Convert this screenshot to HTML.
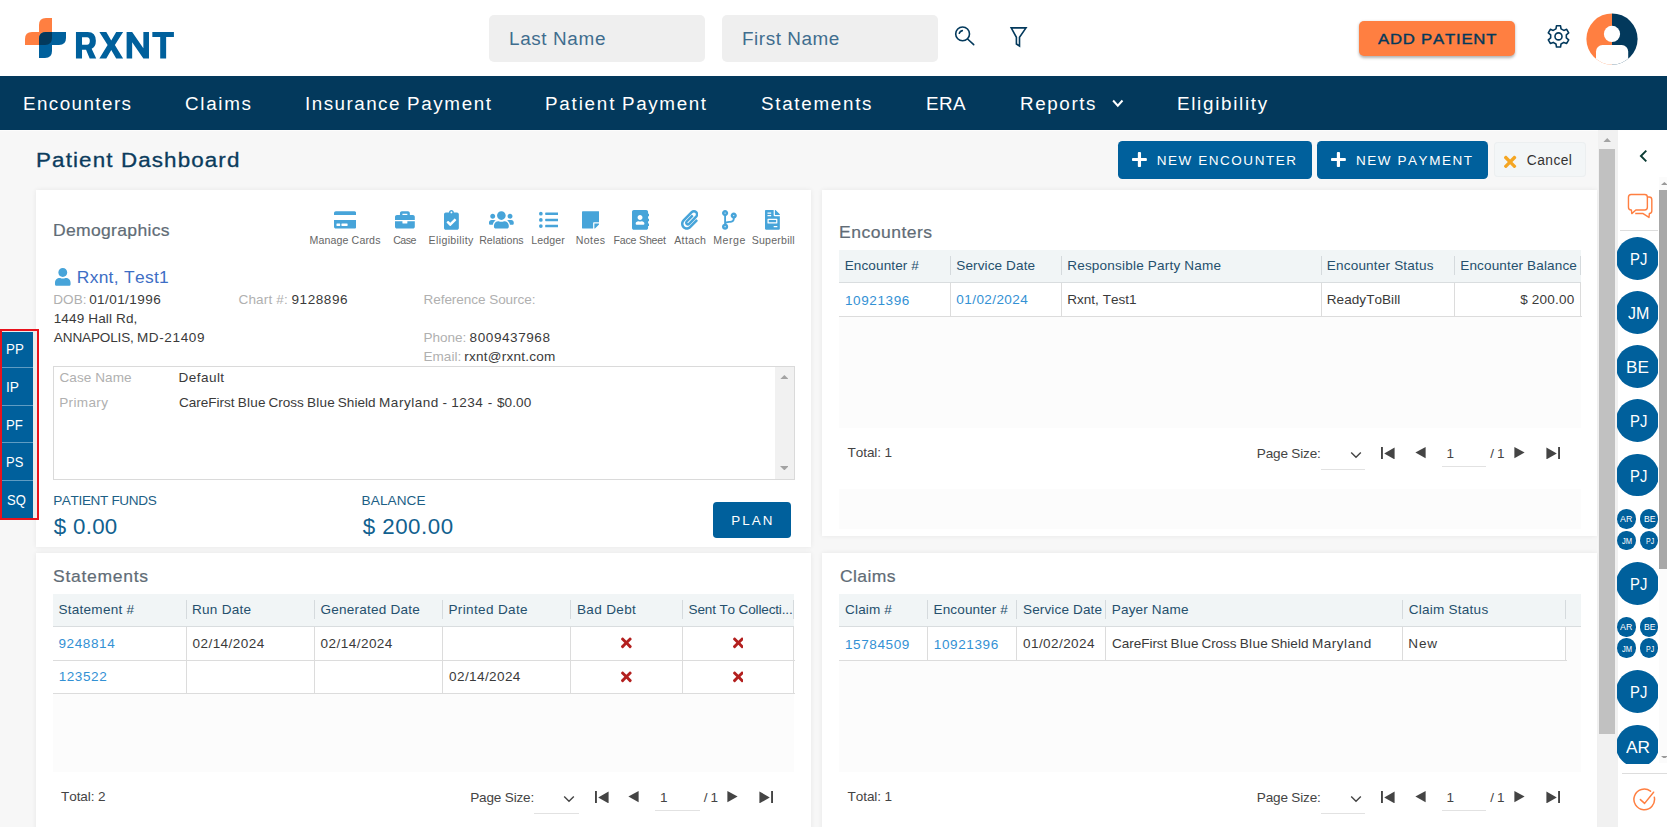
<!DOCTYPE html>
<html lang="en"><head><meta charset="utf-8"><title>Patient Dashboard</title>
<style>
html,body{margin:0;padding:0;}
body{width:1667px;height:827px;overflow:hidden;position:relative;background:#fff;font-family:"Liberation Sans",sans-serif;}
.r{position:absolute;display:block;box-sizing:border-box;}
.t{font-kerning:none;position:absolute;display:block;white-space:nowrap;font-family:"Liberation Sans",sans-serif;}
</style></head><body>
<div class="r" style="left:0px;top:0px;width:1667px;height:76px;background:#ffffff;"></div>
<div class="r" style="left:0px;top:76px;width:1667px;height:54px;background:#03395c;"></div>
<div class="r" style="left:0px;top:130px;width:1599px;height:697px;background:#f7f7f7;"></div>
<div class="r" style="left:0px;top:130px;width:1618px;height:1px;background:rgba(255,255,255,.6);"></div>
<svg class="r" style="left:25px;top:18px;" width="41" height="40" viewBox="0 0 41 40"><path fill="#ff7f41" d="M21 0H27V27H0V21Q0 14 7 14H14V7Q14 0 21 0Z"/>
<path fill="#00609c" d="M21 14H41V20Q41 27 34 27H27V33Q27 40 20 40H14V21Q14 14 21 14Z"/>
<path fill="#03395c" d="M21 14H27V20Q27 27 20 27H14V21Q14 14 21 14Z"/></svg>
<svg class="r" style="left:70px;top:22px;" width="110" height="44" viewBox="0 0 1667 667"><g fill="#00609c"><path fill-rule="evenodd" d="M90 150 H268 Q392 150 392 286 Q392 378 328 406 L397 552 H298 L243 421 H182 V552 H90 Z M182 232 H258 Q300 232 300 289 Q300 345 258 345 H182 Z"/>
<path d="M445 150 H550 L625 282 L700 150 H805 L680 350 L805 552 H700 L625 423 L550 552 H445 L570 350 Z"/>
<path d="M858 150 H942 L1112 398 V150 H1197 V552 H1112 L942 306 V552 H858 Z"/>
<path d="M1248 150 H1575 V229 H1457 V552 H1367 V229 H1248 Z"/></g></svg>
<span class="t" style="left:76px;top:30px;font-size:30px;line-height:30px;color:transparent;font-weight:700;">RXNT</span>
<div class="r" style="left:489px;top:15px;width:216px;height:46.5px;background:#efefef;border-radius:5px;"></div>
<div class="r" style="left:722px;top:15px;width:216px;height:46.5px;background:#efefef;border-radius:5px;"></div>
<span class="t" style="left:508.55px;top:30.00px;font-size:18px;line-height:18px;color:#3f6d8e;letter-spacing:0.595px;transform:scaleX(1.05);transform-origin:0 0;">Last Name</span>
<span class="t" style="left:741.55px;top:30.00px;font-size:18px;line-height:18px;color:#3f6d8e;letter-spacing:0.517px;transform:scaleX(1.05);transform-origin:0 0;">First Name</span>
<svg class="r" style="left:950px;top:22px;" width="30" height="28" viewBox="950 22 30 28"><g fill="none" stroke="#03395c" stroke-width="1.6" stroke-linecap="round"><circle cx="962.6" cy="33.9" r="6.9"/><path d="M967.6 39 L973.7 44.6"/><path d="M959.3 33.2 A4 4 0 0 1 962.3 30.6"/></g></svg>
<svg class="r" style="left:1005px;top:22px;" width="30" height="28" viewBox="1005 22 30 28"><path fill="none" stroke="#03395c" stroke-width="1.6" stroke-linejoin="miter" d="M1011.2 27.9 H1026 L1019.5 37.3 V46 L1016.4 44 V37.3 Z"/></svg>
<div class="r" style="left:1359.1px;top:20.5px;width:155.7px;height:35.8px;background:#ff7f41;border-radius:5px;box-shadow:0 1.5px 3px rgba(0,0,0,.3);"></div>
<span class="t" style="left:1377.87px;top:31.00px;font-size:15.2px;line-height:15.2px;color:#03395c;letter-spacing:0.724px;transform:scaleX(1.1);transform-origin:0 0;-webkit-text-stroke:0.4px #03395c;">ADD PATIENT</span>
<svg class="r" style="left:1543px;top:21px;" width="31" height="31" viewBox="1543 21 31 31"><g fill="none" stroke="#03395c" stroke-width="1.6" stroke-linejoin="round"><path d="M1555.95 28.82 L1556.48 25.79 L1560.52 25.79 L1561.05 28.82 L1563.79 30.40 L1566.68 29.34 L1568.70 32.85 L1566.34 34.82 L1566.34 37.98 L1568.70 39.95 L1566.68 43.46 L1563.79 42.40 L1561.05 43.98 L1560.52 47.01 L1556.48 47.01 L1555.95 43.98 L1553.21 42.40 L1550.32 43.46 L1548.30 39.95 L1550.66 37.98 L1550.66 34.82 L1548.30 32.85 L1550.32 29.34 L1553.21 30.40Z"/><circle cx="1558.5" cy="36.4" r="3.5"/></g></svg>
<svg class="r" style="left:1586px;top:12.7px;" width="52" height="52" viewBox="0 0 52 52"><defs><clipPath id="avc"><circle cx="26" cy="26" r="25.6"/></clipPath></defs>
<g clip-path="url(#avc)"><rect x="0" y="0" width="26" height="52" fill="#ff7f41"/><rect x="26" y="0" width="26" height="52" fill="#03395c"/>
<circle cx="26" cy="20.9" r="8.1" fill="#fff"/><rect x="10" y="32.1" width="32.2" height="30" rx="6.5" fill="#fff"/></g></svg>
<span class="t" style="left:23.26px;top:96.00px;font-size:17.6px;line-height:17.6px;color:#ffffff;letter-spacing:1.325px;transform:scaleX(1.07);transform-origin:0 0;">Encounters</span>
<span class="t" style="left:185.44px;top:96.00px;font-size:17.6px;line-height:17.6px;color:#ffffff;letter-spacing:1.569px;transform:scaleX(1.07);transform-origin:0 0;">Claims</span>
<span class="t" style="left:304.66px;top:96.00px;font-size:17.6px;line-height:17.6px;color:#ffffff;letter-spacing:1.375px;transform:scaleX(1.07);transform-origin:0 0;">Insurance</span>
<span class="t" style="left:406.76px;top:96.00px;font-size:17.6px;line-height:17.6px;color:#ffffff;letter-spacing:1.521px;transform:scaleX(1.07);transform-origin:0 0;">Payment</span>
<span class="t" style="left:544.96px;top:96.00px;font-size:17.6px;line-height:17.6px;color:#ffffff;letter-spacing:1.675px;transform:scaleX(1.07);transform-origin:0 0;">Patient</span>
<span class="t" style="left:622.06px;top:96.00px;font-size:17.6px;line-height:17.6px;color:#ffffff;letter-spacing:1.521px;transform:scaleX(1.07);transform-origin:0 0;">Payment</span>
<span class="t" style="left:761.04px;top:96.00px;font-size:17.6px;line-height:17.6px;color:#ffffff;letter-spacing:1.587px;transform:scaleX(1.07);transform-origin:0 0;">Statements</span>
<span class="t" style="left:925.86px;top:96.00px;font-size:17.6px;line-height:17.6px;color:#ffffff;letter-spacing:0.449px;transform:scaleX(1.07);transform-origin:0 0;">ERA</span>
<span class="t" style="left:1020.46px;top:96.00px;font-size:17.6px;line-height:17.6px;color:#ffffff;letter-spacing:1.493px;transform:scaleX(1.07);transform-origin:0 0;">Reports</span>
<span class="t" style="left:1177.16px;top:96.00px;font-size:17.6px;line-height:17.6px;color:#ffffff;letter-spacing:1.582px;transform:scaleX(1.07);transform-origin:0 0;">Eligibility</span>
<svg class="r" style="left:1110px;top:98px;" width="16" height="12" viewBox="1110 98 16 12"><path fill="none" stroke="#fff" stroke-width="2" d="M1113.1 100.5 L1117.8 105.7 L1122.5 100.5"/></svg>
<span class="t" style="left:36.06px;top:150.00px;font-size:20px;line-height:20px;color:#0b3c5d;letter-spacing:0.995px;transform:scaleX(1.12);transform-origin:0 0;-webkit-text-stroke:0.3px #0b3c5d;">Patient Dashboard</span>
<div class="r" style="left:1118px;top:141px;width:193.6px;height:37.9px;background:#00609c;border-radius:4.5px;"></div>
<div class="r" style="left:1317.2px;top:141px;width:170.4px;height:37.9px;background:#00609c;border-radius:4.5px;"></div>
<div class="r" style="left:1493.5px;top:142.4px;width:92.7px;height:35px;background:#f3f6f7;border-radius:4px;box-shadow:0 0 0 1px #eceff0 inset;"></div>
<svg class="r" style="left:1132.1px;top:151.1px;" width="14.88" height="17" viewBox="0 0 448 512"><path fill="#fff" d="M416 208H272V64c0-17.670-14.330-32-32-32h-32c-17.670 0-32 14.330-32 32v144H32c-17.670 0-32 14.330-32 32v32c0 17.670 14.330 32 32 32h144v144c0 17.670 14.330 32 32 32h32c17.670 0 32-14.330 32-32V304h144c17.670 0 32-14.330 32-32v-32c0-17.670-14.330-32-32-32z"/></svg>
<svg class="r" style="left:1331.2px;top:151.1px;" width="14.88" height="17" viewBox="0 0 448 512"><path fill="#fff" d="M416 208H272V64c0-17.670-14.330-32-32-32h-32c-17.670 0-32 14.330-32 32v144H32c-17.670 0-32 14.330-32 32v32c0 17.670 14.330 32 32 32h144v144c0 17.670 14.330 32 32 32h32c17.670 0 32-14.330 32-32V304h144c17.670 0 32-14.330 32-32v-32c0-17.670-14.330-32-32-32z"/></svg>
<span class="t" style="left:1156.79px;top:154.00px;font-size:13.5px;line-height:13.5px;color:#fff;letter-spacing:1.540px;">NEW ENCOUNTER</span>
<span class="t" style="left:1355.89px;top:154.00px;font-size:13.5px;line-height:13.5px;color:#fff;letter-spacing:1.571px;">NEW PAYMENT</span>
<svg class="r" style="left:1504.48px;top:152.8px;" width="12.24" height="17.8" viewBox="0 0 352 512"><path fill="#f5a623" d="M242.720 256l100.070-100.070c12.280-12.280 12.280-32.190 0-44.480l-22.240-22.240c-12.280-12.280-32.190-12.280-44.480 0L176 189.280 75.930 89.210c-12.280-12.280-32.190-12.280-44.480 0L9.210 111.450c-12.280 12.280-12.280 32.190 0 44.480L109.280 256 9.210 356.070c-12.280 12.280-12.280 32.190 0 44.480l22.240 22.240c12.280 12.280 32.200 12.280 44.480 0L176 322.720l100.070 100.070c12.280 12.280 32.200 12.280 44.480 0l22.240-22.240c12.280-12.280 12.280-32.190 0-44.480L242.720 256z"/></svg>
<span class="t" style="left:1526.80px;top:154.00px;font-size:13.8px;line-height:13.8px;color:#333;letter-spacing:0.433px;">Cancel</span>
<div class="r" style="left:36px;top:190px;width:775px;height:357px;background:#fff;box-shadow:0 0 5px rgba(0,0,0,.07);"></div>
<span class="t" style="left:53.06px;top:222.00px;font-size:16.1px;line-height:16.1px;color:#616c76;letter-spacing:0.286px;transform:scaleX(1.09);transform-origin:0 0;-webkit-text-stroke:0.2px #616c76;">Demographics</span>
<svg class="r" style="left:333.76px;top:209.9px;" width="22.28" height="19.8" viewBox="0 0 576 512"><path fill="#47a4d9" d="M0 432c0 26.5 21.5 48 48 48h480c26.5 0 48-21.5 48-48V256H0v176zm192-68c0-6.600 5.400-12 12-12h136c6.600 0 12 5.400 12 12v40c0 6.600-5.400 12-12 12H204c-6.600 0-12-5.400-12-12v-40zm-128 0c0-6.600 5.400-12 12-12h72c6.600 0 12 5.400 12 12v40c0 6.600-5.400 12-12 12H76c-6.600 0-12-5.400-12-12v-40zM576 80v48H0V80c0-26.5 21.5-48 48-48h480c26.5 0 48 21.5 48 48z"/></svg>
<span class="t" style="left:309.43px;top:235.00px;font-size:10.6px;line-height:10.6px;color:#666;letter-spacing:0.139px;">Manage Cards</span>
<svg class="r" style="left:395.1px;top:209.9px;" width="19.8" height="19.8" viewBox="0 0 512 512"><path fill="#47a4d9" d="M320 336c0 8.840-7.160 16-16 16h-96c-8.840 0-16-7.160-16-16v-48H0v144c0 25.600 22.400 48 48 48h416c25.600 0 48-22.400 48-48V288H320v48zm144-208h-80V80c0-25.600-22.400-48-48-48H176c-25.600 0-48 22.400-48 48v48H48c-25.600 0-48 22.400-48 48v80h512v-80c0-25.600-22.400-48-48-48zm-144 0H192V96h128v32z"/></svg>
<span class="t" style="left:393.16px;top:235.00px;font-size:10.6px;line-height:10.6px;color:#666;letter-spacing:-0.479px;">Case</span>
<svg class="r" style="left:443.97px;top:209.9px;" width="14.85" height="19.8" viewBox="0 0 384 512"><path fill="#47a4d9" d="M336 64h-80c0-35.300-28.700-64-64-64s-64 28.700-64 64H48C21.500 64 0 85.500 0 112v352c0 26.500 21.500 48 48 48h288c26.500 0 48-21.500 48-48V112c0-26.500-21.500-48-48-48zM192 40c13.300 0 24 10.700 24 24s-10.700 24-24 24-24-10.700-24-24 10.700-24 24-24zm121.200 231.800l-143 141.800c-4.700 4.700-12.300 4.600-17-.1l-82.600-83.300c-4.700-4.700-4.600-12.300.1-17L99.100 285c4.700-4.700 12.300-4.600 17 .1l46 46.400 106-105.200c4.700-4.700 12.300-4.600 17 .1l28.200 28.400c4.700 4.800 4.600 12.300-.1 17z"/></svg>
<span class="t" style="left:428.53px;top:235.00px;font-size:10.6px;line-height:10.6px;color:#666;letter-spacing:0.365px;">Eligibility</span>
<svg class="r" style="left:488.93px;top:209.9px;" width="24.75" height="19.8" viewBox="0 0 640 512"><path fill="#47a4d9" d="M96 224c35.300 0 64-28.700 64-64s-28.700-64-64-64-64 28.700-64 64 28.700 64 64 64zm448 0c35.300 0 64-28.700 64-64s-28.700-64-64-64-64 28.700-64 64 28.700 64 64 64zm32 32h-64c-17.600 0-33.500 7.100-45.100 18.600 40.300 22.100 68.900 62 75.100 109.400h66c17.700 0 32-14.300 32-32v-32c0-35.300-28.700-64-64-64zm-256 0c61.900 0 112-50.100 112-112S381.900 32 320 32 208 82.100 208 144s50.100 112 112 112zm76.800 32h-8.300c-20.800 10-43.900 16-68.500 16s-47.600-6-68.500-16h-8.300C179.600 288 128 339.600 128 403.200V432c0 26.500 21.500 48 48 48h288c26.500 0 48-21.500 48-48v-28.800c0-63.600-51.600-115.200-115.200-115.200zm-223.700-13.400C161.500 263.100 145.600 256 128 256H64c-35.300 0-64 28.700-64 64v32c0 17.700 14.300 32 32 32h65.900c6.300-47.400 34.900-87.300 75.200-109.400z"/></svg>
<span class="t" style="left:479.13px;top:235.00px;font-size:10.6px;line-height:10.6px;color:#666;letter-spacing:0.045px;">Relations</span>
<svg class="r" style="left:538.6px;top:209.9px;" width="19.8" height="19.8" viewBox="0 0 512 512"><path fill="#47a4d9" d="M48 48a48 48 0 1 0 48 48 48 48 0 0 0-48-48zm0 160a48 48 0 1 0 48 48 48 48 0 0 0-48-48zm0 160a48 48 0 1 0 48 48 48 48 0 0 0-48-48zm448 16H176a16 16 0 0 0-16 16v32a16 16 0 0 0 16 16h320a16 16 0 0 0 16-16v-32a16 16 0 0 0-16-16zm0-320H176a16 16 0 0 0-16 16v32a16 16 0 0 0 16 16h320a16 16 0 0 0 16-16V80a16 16 0 0 0-16-16zm0 160H176a16 16 0 0 0-16 16v32a16 16 0 0 0 16 16h320a16 16 0 0 0 16-16v-32a16 16 0 0 0-16-16z"/></svg>
<span class="t" style="left:531.13px;top:235.00px;font-size:10.6px;line-height:10.6px;color:#666;letter-spacing:0.128px;">Ledger</span>
<svg class="r" style="left:581.94px;top:209.9px;" width="17.32" height="19.8" viewBox="0 0 448 512"><path fill="#47a4d9" d="M312 320h136V56c0-13.300-10.700-24-24-24H24C10.700 32 0 42.700 0 56v400c0 13.300 10.700 24 24 24h264V344c0-13.200 10.800-24 24-24zm129 55l-98 98c-4.500 4.500-10.600 7-17 7h-6V352h128v6.100c0 6.300-2.500 12.400-7 16.900z"/></svg>
<span class="t" style="left:575.73px;top:235.00px;font-size:10.6px;line-height:10.6px;color:#666;letter-spacing:0.416px;">Notes</span>
<svg class="r" style="left:631.54px;top:209.9px;" width="17.32" height="19.8" viewBox="0 0 448 512"><path fill="#47a4d9" d="M436 160c6.600 0 12-5.400 12-12v-40c0-6.600-5.400-12-12-12h-20V48c0-26.500-21.500-48-48-48H48C21.500 0 0 21.500 0 48v416c0 26.500 21.500 48 48 48h320c26.500 0 48-21.500 48-48v-48h20c6.600 0 12-5.400 12-12v-40c0-6.600-5.400-12-12-12h-20v-64h20c6.600 0 12-5.400 12-12v-40c0-6.600-5.400-12-12-12h-20v-64h20zm-228-32c35.300 0 64 28.700 64 64s-28.700 64-64 64-64-28.700-64-64 28.700-64 64-64zm112 236.800c0 10.600-10 19.200-22.400 19.200H118.400C106 384 96 375.400 96 364.800v-19.200c0-31.800 30.100-57.600 67.200-57.600h5c12.300 5.100 25.700 8 39.800 8s27.600-2.900 39.800-8h5c37.100 0 67.200 25.800 67.200 57.600v19.200z"/></svg>
<span class="t" style="left:613.53px;top:235.00px;font-size:10.6px;line-height:10.6px;color:#666;letter-spacing:-0.196px;">Face Sheet</span>
<svg class="r" style="left:680.64px;top:209.9px;" width="17.32" height="19.8" viewBox="0 0 448 512"><path fill="#47a4d9" d="M43.246 466.142c-58.430-60.289-57.341-157.511 1.386-217.581L254.392 34c44.316-45.332 116.351-45.336 160.671 0 43.890 44.894 43.943 117.329 0 162.276L232.214 383.128c-29.855 30.537-78.633 30.111-107.982-.998-28.275-29.970-27.368-77.473 1.452-106.953l143.743-146.835c6.182-6.314 16.312-6.422 22.626-.241l22.861 22.379c6.315 6.182 6.422 16.312.241 22.626L171.427 319.927c-4.932 5.045-5.236 13.428-.648 18.292 4.372 4.634 11.245 4.711 15.688.165l182.849-186.851c19.613-20.062 19.613-52.725-.011-72.798-19.189-19.627-49.957-19.637-69.154 0L90.390 293.295c-34.763 35.560-35.299 93.120-1.191 128.313 34.010 35.093 88.985 35.137 123.058.286l172.060-175.999c6.177-6.319 16.307-6.433 22.626-.256l22.877 22.364c6.319 6.177 6.434 16.307.256 22.626l-172.060 175.998c-59.576 60.938-155.943 60.216-214.770-.485z"/></svg>
<span class="t" style="left:674.18px;top:235.00px;font-size:10.6px;line-height:10.6px;color:#666;letter-spacing:0.352px;">Attach</span>
<svg class="r" style="left:721.78px;top:209.9px;" width="14.85" height="19.8" viewBox="0 0 384 512"><path fill="#47a4d9" d="M384 144c0-44.200-35.800-80-80-80s-80 35.800-80 80c0 36.400 24.300 67.100 57.500 76.800-.6 16.100-4.200 28.500-11 36.900-15.400 19.200-49.300 22.400-85.200 25.700-28.200 2.600-57.400 5.400-81.300 16.900v-144c32.500-10.200 56-40.500 56-76.300 0-44.200-35.800-80-80-80S0 35.800 0 80c0 35.800 23.500 66.100 56 76.300v199.300C23.500 365.900 0 396.200 0 432c0 44.200 35.800 80 80 80s80-35.800 80-80c0-34-21.200-63.100-51.200-74.600 3.100-5.200 7.800-9.800 14.900-13.400 16.200-8.200 40.400-10.400 66.100-12.800 42.200-3.900 90-8.400 118.200-43.400 14-17.400 21.100-39.800 21.600-67.900 31.600-10.800 54.400-40.700 54.400-75.900zM80 64c8.800 0 16 7.200 16 16s-7.200 16-16 16-16-7.200-16-16 7.200-16 16-16zm0 384c-8.800 0-16-7.200-16-16s7.200-16 16-16 16 7.200 16 16-7.200 16-16 16zm224-320c8.800 0 16 7.200 16 16s-7.200 16-16 16-16-7.200-16-16 7.200-16 16-16z"/></svg>
<span class="t" style="left:713.13px;top:235.00px;font-size:10.6px;line-height:10.6px;color:#666;letter-spacing:0.574px;">Merge</span>
<svg class="r" style="left:765.28px;top:209.9px;" width="14.85" height="19.8" viewBox="0 0 384 512"><path fill="#47a4d9" d="M288 256H96v64h192v-64zm89-151L279.100 7c-4.500-4.500-10.600-7-17-7H256v128h128v-6.100c0-6.300-2.500-12.400-7-16.900zm-153 31V0H24C10.700 0 0 10.700 0 24v464c0 13.300 10.700 24 24 24h336c13.300 0 24-10.700 24-24V160H248c-13.200 0-24-10.800-24-24zM64 72c0-4.420 3.580-8 8-8h80c4.420 0 8 3.580 8 8v16c0 4.420-3.580 8-8 8H72c-4.420 0-8-3.580-8-8V72zm0 64c0-4.420 3.580-8 8-8h80c4.420 0 8 3.580 8 8v16c0 4.420-3.580 8-8 8H72c-4.420 0-8-3.580-8-8v-16zm256 304c0 4.420-3.580 8-8 8h-80c-4.420 0-8-3.580-8-8v-16c0-4.420 3.580-8 8-8h80c4.420 0 8 3.580 8 8v16zm0-200v96c0 8.840-7.160 16-16 16H80c-8.840 0-16-7.160-16-16v-96c0-8.840 7.160-16 16-16h224c8.840 0 16 7.160 16 16z"/></svg>
<span class="t" style="left:751.72px;top:235.00px;font-size:10.6px;line-height:10.6px;color:#666;letter-spacing:0.218px;">Superbill</span>
<svg class="r" style="left:55px;top:267.8px;" width="15.58" height="17.8" viewBox="0 0 448 512"><path fill="#47a4d9" d="M224 256c70.700 0 128-57.300 128-128S294.700 0 224 0 96 57.300 96 128s57.300 128 128 128zm89.600 32h-16.700c-22.200 10.200-46.900 16-72.900 16s-50.600-5.800-72.900-16h-16.700C60.200 288 0 348.200 0 422.400V464c0 26.500 21.500 48 48 48h352c26.500 0 48-21.500 48-48v-41.600c0-74.200-60.200-134.400-134.400-134.400z"/></svg>
<span class="t" style="left:76.77px;top:269.00px;font-size:17.4px;line-height:17.4px;color:#3d6ec5;letter-spacing:0.311px;">Rxnt, Test1</span>
<span class="t" style="left:53.19px;top:293.00px;font-size:13.55px;line-height:13.55px;color:#b0b0b0;letter-spacing:0.074px;">DOB:</span>
<span class="t" style="left:89.17px;top:293.00px;font-size:13.55px;line-height:13.55px;color:#3a3a3a;letter-spacing:0.412px;">01/01/1996</span>
<span class="t" style="left:238.51px;top:293.00px;font-size:13.55px;line-height:13.55px;color:#b0b0b0;letter-spacing:0.147px;">Chart #:</span>
<span class="t" style="left:291.46px;top:293.00px;font-size:13.55px;line-height:13.55px;color:#3a3a3a;letter-spacing:0.563px;">9128896</span>
<span class="t" style="left:423.49px;top:293.00px;font-size:13.55px;line-height:13.55px;color:#b0b0b0;letter-spacing:-0.058px;">Reference Source:</span>
<span class="t" style="left:53.67px;top:312.00px;font-size:13.55px;line-height:13.55px;color:#3a3a3a;letter-spacing:0.137px;">1449 Hall Rd,</span>
<span class="t" style="left:53.87px;top:331.00px;font-size:13.55px;line-height:13.55px;color:#3a3a3a;letter-spacing:-0.143px;">ANNAPOLIS,</span>
<span class="t" style="left:136.89px;top:331.00px;font-size:13.55px;line-height:13.55px;color:#3a3a3a;letter-spacing:0.627px;">MD-21409</span>
<span class="t" style="left:423.49px;top:331.00px;font-size:13.55px;line-height:13.55px;color:#b0b0b0;letter-spacing:-0.039px;">Phone:</span>
<span class="t" style="left:469.61px;top:331.00px;font-size:13.55px;line-height:13.55px;color:#3a3a3a;letter-spacing:0.558px;">8009437968</span>
<span class="t" style="left:423.49px;top:350.00px;font-size:13.55px;line-height:13.55px;color:#b0b0b0;letter-spacing:0.021px;">Email:</span>
<span class="t" style="left:464.20px;top:350.00px;font-size:13.55px;line-height:13.55px;color:#3a3a3a;letter-spacing:0.233px;">rxnt@rxnt.com</span>
<div class="r" style="left:53px;top:366px;width:741.5px;height:113.5px;background:#fff;border:1px solid #dadada;"></div>
<div class="r" style="left:774.5px;top:367px;width:19px;height:111.5px;background:#f1f1f1;"></div>
<svg class="r" style="left:779.5px;top:374.6px;" width="8.8" height="4.4" viewBox="0 0 8.8 4.4"><path fill="#a3a3a3" d="M0 4.4 L4.4 0 L8.8 4.4Z"/></svg>
<svg class="r" style="left:779.5px;top:466.1px;" width="8.8" height="4.4" viewBox="0 0 8.8 4.4"><path fill="#a3a3a3" d="M0 0 L4.4 4.4 L8.8 0Z"/></svg>
<span class="t" style="left:59.41px;top:371.00px;font-size:13.55px;line-height:13.55px;color:#b0b0b0;letter-spacing:0.081px;">Case Name</span>
<span class="t" style="left:178.59px;top:371.00px;font-size:13.55px;line-height:13.55px;color:#3a3a3a;letter-spacing:0.430px;">Default</span>
<span class="t" style="left:59.19px;top:396.00px;font-size:13.55px;line-height:13.55px;color:#b0b0b0;letter-spacing:0.361px;">Primary</span>
<span class="t" style="left:179.01px;top:396.00px;font-size:13.55px;line-height:13.55px;color:#3a3a3a;letter-spacing:-0.028px;">CareFirst</span>
<span class="t" style="left:237.69px;top:396.00px;font-size:13.55px;line-height:13.55px;color:#3a3a3a;letter-spacing:0.265px;">Blue</span>
<span class="t" style="left:268.51px;top:396.00px;font-size:13.55px;line-height:13.55px;color:#3a3a3a;letter-spacing:-0.051px;">Cross</span>
<span class="t" style="left:306.89px;top:396.00px;font-size:13.55px;line-height:13.55px;color:#3a3a3a;letter-spacing:0.298px;">Blue</span>
<span class="t" style="left:337.78px;top:396.00px;font-size:13.55px;line-height:13.55px;color:#3a3a3a;letter-spacing:0.025px;">Shield</span>
<span class="t" style="left:379.09px;top:396.00px;font-size:13.55px;line-height:13.55px;color:#3a3a3a;letter-spacing:0.508px;">Maryland</span>
<span class="t" style="left:442.40px;top:396.00px;font-size:13.55px;line-height:13.55px;color:#3a3a3a;">-</span>
<span class="t" style="left:451.27px;top:396.00px;font-size:13.55px;line-height:13.55px;color:#3a3a3a;letter-spacing:0.495px;">1234</span>
<span class="t" style="left:487.70px;top:396.00px;font-size:13.55px;line-height:13.55px;color:#3a3a3a;">-</span>
<span class="t" style="left:496.95px;top:396.00px;font-size:13.55px;line-height:13.55px;color:#3a3a3a;letter-spacing:0.092px;">$0.00</span>
<span class="t" style="left:53.18px;top:494.00px;font-size:13.6px;line-height:13.6px;color:#1d5f86;letter-spacing:-0.367px;">PATIENT FUNDS</span>
<span class="t" style="left:53.86px;top:516.00px;font-size:22.3px;line-height:22.3px;color:#11618f;letter-spacing:0.282px;">$ 0.00</span>
<span class="t" style="left:361.58px;top:494.00px;font-size:13.6px;line-height:13.6px;color:#1d5f86;letter-spacing:0.085px;">BALANCE</span>
<span class="t" style="left:362.66px;top:516.00px;font-size:22.3px;line-height:22.3px;color:#11618f;letter-spacing:0.515px;">$ 200.00</span>
<div class="r" style="left:713px;top:502px;width:78.2px;height:35.6px;background:#00609c;border-radius:3.8px;"></div>
<span class="t" style="left:731.20px;top:514.00px;font-size:13.4px;line-height:13.4px;color:#fff;letter-spacing:2.062px;">PLAN</span>
<div class="r" style="left:36px;top:553px;width:775px;height:300px;background:#fff;box-shadow:0 0 5px rgba(0,0,0,.07);"></div>
<span class="t" style="left:53.20px;top:568.00px;font-size:16.1px;line-height:16.1px;color:#616c76;letter-spacing:0.649px;transform:scaleX(1.09);transform-origin:0 0;-webkit-text-stroke:0.2px #616c76;">Statements</span>
<div class="r" style="left:52.7px;top:594px;width:741px;height:32.3px;background:#f1f5f6;"></div>
<div class="r" style="left:52.7px;top:626px;width:741px;height:1px;background:#d9dddf;"></div>
<div class="r" style="left:52.7px;top:627px;width:741px;height:144.60000000000002px;background:#fcfcfc;"></div>
<div class="r" style="left:52.7px;top:627px;width:741.0px;height:33.4px;background:#fff;"></div>
<div class="r" style="left:52.7px;top:660.4px;width:741.0px;height:33.4px;background:#fff;"></div>
<div class="r" style="left:52.7px;top:659.9px;width:742.0px;height:1px;background:#dcdcdc;"></div>
<div class="r" style="left:52.7px;top:693.3px;width:742.0px;height:1px;background:#dcdcdc;"></div>
<div class="r" style="left:185.6px;top:600px;width:1px;height:19px;background:#d5dadd;"></div>
<div class="r" style="left:185.6px;top:627px;width:1px;height:66.8px;background:#dcdcdc;"></div>
<div class="r" style="left:314.0px;top:600px;width:1px;height:19px;background:#d5dadd;"></div>
<div class="r" style="left:314.0px;top:627px;width:1px;height:66.8px;background:#dcdcdc;"></div>
<div class="r" style="left:441.9px;top:600px;width:1px;height:19px;background:#d5dadd;"></div>
<div class="r" style="left:441.9px;top:627px;width:1px;height:66.8px;background:#dcdcdc;"></div>
<div class="r" style="left:570.0px;top:600px;width:1px;height:19px;background:#d5dadd;"></div>
<div class="r" style="left:570.0px;top:627px;width:1px;height:66.8px;background:#dcdcdc;"></div>
<div class="r" style="left:681.9px;top:600px;width:1px;height:19px;background:#d5dadd;"></div>
<div class="r" style="left:681.9px;top:627px;width:1px;height:66.8px;background:#dcdcdc;"></div>
<div class="r" style="left:792.8px;top:600px;width:1px;height:19px;background:#d5dadd;"></div>
<div class="r" style="left:792.8px;top:627px;width:1px;height:66.8px;background:#dcdcdc;"></div>
<span class="t" style="left:58.48px;top:603.00px;font-size:13.55px;line-height:13.55px;color:#25506d;letter-spacing:0.252px;">Statement #</span>
<span class="t" style="left:191.99px;top:603.00px;font-size:13.55px;line-height:13.55px;color:#25506d;letter-spacing:0.267px;">Run Date</span>
<span class="t" style="left:320.42px;top:603.00px;font-size:13.55px;line-height:13.55px;color:#25506d;letter-spacing:0.236px;">Generated Date</span>
<span class="t" style="left:448.49px;top:603.00px;font-size:13.55px;line-height:13.55px;color:#25506d;letter-spacing:0.345px;">Printed Date</span>
<span class="t" style="left:576.89px;top:603.00px;font-size:13.55px;line-height:13.55px;color:#25506d;letter-spacing:0.359px;">Bad Debt</span>
<span class="t" style="left:688.58px;top:603.00px;font-size:13.55px;line-height:13.55px;color:#25506d;letter-spacing:-0.155px;">Sent To Collecti...</span>
<span class="t" style="left:58.46px;top:637.00px;font-size:13.55px;line-height:13.55px;color:#3391d4;letter-spacing:0.597px;">9248814</span>
<span class="t" style="left:192.57px;top:637.00px;font-size:13.55px;line-height:13.55px;color:#3a3a3a;letter-spacing:0.423px;">02/14/2024</span>
<span class="t" style="left:320.57px;top:637.00px;font-size:13.55px;line-height:13.55px;color:#3a3a3a;letter-spacing:0.446px;">02/14/2024</span>
<span class="t" style="left:58.67px;top:670.00px;font-size:13.55px;line-height:13.55px;color:#3391d4;letter-spacing:0.560px;">123522</span>
<span class="t" style="left:449.07px;top:670.00px;font-size:13.55px;line-height:13.55px;color:#3a3a3a;letter-spacing:0.390px;">02/14/2024</span>
<svg class="r" style="left:621.14px;top:635.2px;" width="10.72" height="15.6" viewBox="0 0 352 512"><path fill="#b3201f" d="M242.720 256l100.070-100.070c12.280-12.280 12.280-32.190 0-44.480l-22.240-22.240c-12.280-12.280-32.190-12.280-44.480 0L176 189.280 75.930 89.210c-12.280-12.280-32.190-12.280-44.480 0L9.210 111.450c-12.280 12.280-12.280 32.190 0 44.480L109.280 256 9.210 356.070c-12.280 12.280-12.280 32.190 0 44.480l22.240 22.240c12.280 12.280 32.200 12.280 44.480 0L176 322.720l100.070 100.070c12.280 12.280 32.200 12.280 44.480 0l22.240-22.240c12.280-12.280 12.280-32.190 0-44.480L242.720 256z"/></svg>
<svg class="r" style="left:621.14px;top:668.6px;" width="10.72" height="15.6" viewBox="0 0 352 512"><path fill="#b3201f" d="M242.720 256l100.070-100.070c12.280-12.280 12.280-32.190 0-44.480l-22.240-22.240c-12.280-12.280-32.190-12.280-44.480 0L176 189.280 75.930 89.210c-12.280-12.280-32.190-12.280-44.480 0L9.210 111.450c-12.280 12.280-12.280 32.190 0 44.480L109.280 256 9.210 356.070c-12.280 12.280-12.280 32.190 0 44.480l22.240 22.240c12.280 12.280 32.200 12.280 44.480 0L176 322.720l100.070 100.070c12.280 12.280 32.200 12.280 44.480 0l22.240-22.240c12.280-12.280 12.280-32.190 0-44.480L242.720 256z"/></svg>
<svg class="r" style="left:732.54px;top:635.2px;" width="10.72" height="15.6" viewBox="0 0 352 512"><path fill="#b3201f" d="M242.720 256l100.070-100.070c12.280-12.280 12.280-32.190 0-44.480l-22.240-22.240c-12.280-12.280-32.190-12.280-44.480 0L176 189.280 75.930 89.210c-12.280-12.280-32.190-12.280-44.480 0L9.210 111.450c-12.280 12.280-12.280 32.190 0 44.480L109.280 256 9.210 356.070c-12.280 12.280-12.280 32.190 0 44.480l22.240 22.240c12.280 12.280 32.200 12.280 44.480 0L176 322.720l100.070 100.070c12.280 12.280 32.200 12.280 44.480 0l22.240-22.240c12.280-12.280 12.280-32.190 0-44.480L242.720 256z"/></svg>
<svg class="r" style="left:732.54px;top:668.6px;" width="10.72" height="15.6" viewBox="0 0 352 512"><path fill="#b3201f" d="M242.720 256l100.070-100.070c12.280-12.280 12.280-32.190 0-44.480l-22.240-22.240c-12.280-12.280-32.190-12.280-44.480 0L176 189.280 75.930 89.210c-12.280-12.280-32.190-12.280-44.480 0L9.210 111.450c-12.280 12.280-12.280 32.190 0 44.480L109.280 256 9.210 356.070c-12.280 12.280-12.280 32.190 0 44.480l22.240 22.240c12.280 12.280 32.200 12.280 44.480 0L176 322.720l100.070 100.070c12.280 12.280 32.200 12.280 44.480 0l22.240-22.240c12.280-12.280 12.280-32.190 0-44.480L242.720 256z"/></svg>
<span class="t" style="left:61.00px;top:790.00px;font-size:13.55px;line-height:13.55px;color:#444;letter-spacing:-0.086px;">Total: 2</span>
<span class="t" style="left:470.19px;top:791.00px;font-size:13.55px;line-height:13.55px;color:#444;letter-spacing:-0.165px;">Page Size:</span>
<div class="r" style="left:534px;top:812.5px;width:44.5px;height:1px;background:#e2e2e2;"></div>
<svg class="r" style="left:563px;top:794.6px;" width="12" height="8" viewBox="0 0 12 8"><path fill="none" stroke="#444" stroke-width="1.4" d="M1.2 1.5 L6 6.3 L10.8 1.5"/></svg>
<svg class="r" style="left:594.8px;top:790.6px;" width="14" height="12.8" viewBox="0 0 14 12.8"><path fill="#444" d="M0 0H1.9V12.8H0Z M13.6 0.4V12.4L3.2 6.4Z"/></svg>
<svg class="r" style="left:628.4px;top:791.4px;" width="11" height="11.2" viewBox="0 0 11 11.2"><path fill="#444" d="M10.6 0V11.2L0.4 5.6Z"/></svg>
<span class="t" style="left:659.97px;top:791.00px;font-size:13.55px;line-height:13.55px;color:#444;">1</span>
<div class="r" style="left:655.2px;top:810.4000000000001px;width:44.4px;height:1px;background:#e2e2e2;"></div>
<span class="t" style="left:703.70px;top:791.00px;font-size:13.55px;line-height:13.55px;color:#444;letter-spacing:-0.402px;">/ 1</span>
<svg class="r" style="left:727.2px;top:791.4px;" width="11" height="11.2" viewBox="0 0 11 11.2"><path fill="#444" d="M0.4 0V11.2L10.6 5.6Z"/></svg>
<svg class="r" style="left:759.2px;top:790.6px;" width="14" height="12.8" viewBox="0 0 14 12.8"><path fill="#444" d="M12.1 0H14V12.8H12.1Z M0.4 0.4V12.4L10.8 6.4Z"/></svg>
<div class="r" style="left:822px;top:190px;width:775px;height:345.5px;background:#fff;box-shadow:0 0 5px rgba(0,0,0,.07);"></div>
<span class="t" style="left:839.46px;top:224.00px;font-size:16.1px;line-height:16.1px;color:#616c76;letter-spacing:0.449px;transform:scaleX(1.09);transform-origin:0 0;-webkit-text-stroke:0.2px #616c76;">Encounters</span>
<div class="r" style="left:839.2px;top:250px;width:741.5px;height:32.3px;background:#f1f5f6;"></div>
<div class="r" style="left:839.2px;top:282px;width:741.5px;height:1px;background:#d9dddf;"></div>
<div class="r" style="left:839.2px;top:283px;width:741.5px;height:145px;background:#fcfcfc;"></div>
<div class="r" style="left:839.2px;top:283px;width:741.5px;height:33.4px;background:#fff;"></div>
<div class="r" style="left:839.2px;top:315.9px;width:742.5px;height:1px;background:#dcdcdc;"></div>
<div class="r" style="left:949.6999999999999px;top:256px;width:1px;height:19px;background:#d5dadd;"></div>
<div class="r" style="left:949.6999999999999px;top:283px;width:1px;height:33.4px;background:#dcdcdc;"></div>
<div class="r" style="left:1060.8000000000002px;top:256px;width:1px;height:19px;background:#d5dadd;"></div>
<div class="r" style="left:1060.8000000000002px;top:283px;width:1px;height:33.4px;background:#dcdcdc;"></div>
<div class="r" style="left:1320.6000000000001px;top:256px;width:1px;height:19px;background:#d5dadd;"></div>
<div class="r" style="left:1320.6000000000001px;top:283px;width:1px;height:33.4px;background:#dcdcdc;"></div>
<div class="r" style="left:1454.0px;top:256px;width:1px;height:19px;background:#d5dadd;"></div>
<div class="r" style="left:1454.0px;top:283px;width:1px;height:33.4px;background:#dcdcdc;"></div>
<div class="r" style="left:1580.0px;top:256px;width:1px;height:19px;background:#d5dadd;"></div>
<div class="r" style="left:1580.0px;top:283px;width:1px;height:33.4px;background:#dcdcdc;"></div>
<span class="t" style="left:844.69px;top:259.00px;font-size:13.55px;line-height:13.55px;color:#25506d;letter-spacing:0.111px;">Encounter #</span>
<span class="t" style="left:956.28px;top:259.00px;font-size:13.55px;line-height:13.55px;color:#25506d;letter-spacing:0.114px;">Service Date</span>
<span class="t" style="left:1067.19px;top:259.00px;font-size:13.55px;line-height:13.55px;color:#25506d;letter-spacing:0.193px;">Responsible Party Name</span>
<span class="t" style="left:1326.79px;top:259.00px;font-size:13.55px;line-height:13.55px;color:#25506d;letter-spacing:0.184px;">Encounter Status</span>
<span class="t" style="left:1460.29px;top:259.00px;font-size:13.55px;line-height:13.55px;color:#25506d;letter-spacing:0.132px;">Encounter Balance</span>
<span class="t" style="left:844.97px;top:294.00px;font-size:13.55px;line-height:13.55px;color:#3391d4;letter-spacing:0.577px;">10921396</span>
<span class="t" style="left:956.37px;top:293.00px;font-size:13.55px;line-height:13.55px;color:#3391d4;letter-spacing:0.401px;">01/02/2024</span>
<span class="t" style="left:1067.19px;top:293.00px;font-size:13.55px;line-height:13.55px;color:#3a3a3a;letter-spacing:0.019px;">Rxnt, Test1</span>
<span class="t" style="left:1326.79px;top:293.00px;font-size:13.55px;line-height:13.55px;color:#3a3a3a;letter-spacing:0.037px;">ReadyToBill</span>
<span class="t" style="left:1520.15px;top:293.00px;font-size:13.55px;line-height:13.55px;color:#3a3a3a;letter-spacing:0.204px;">$ 200.00</span>
<span class="t" style="left:847.60px;top:446.00px;font-size:13.55px;line-height:13.55px;color:#444;letter-spacing:-0.089px;">Total: 1</span>
<span class="t" style="left:1256.79px;top:447.00px;font-size:13.55px;line-height:13.55px;color:#444;letter-spacing:-0.165px;">Page Size:</span>
<div class="r" style="left:1320.6px;top:468.5px;width:44.5px;height:1px;background:#e2e2e2;"></div>
<svg class="r" style="left:1349.6px;top:450.59999999999997px;" width="12" height="8" viewBox="0 0 12 8"><path fill="none" stroke="#444" stroke-width="1.4" d="M1.2 1.5 L6 6.3 L10.8 1.5"/></svg>
<svg class="r" style="left:1381.4px;top:446.6px;" width="14" height="12.8" viewBox="0 0 14 12.8"><path fill="#444" d="M0 0H1.9V12.8H0Z M13.6 0.4V12.4L3.2 6.4Z"/></svg>
<svg class="r" style="left:1415.0px;top:447.4px;" width="11" height="11.2" viewBox="0 0 11 11.2"><path fill="#444" d="M10.6 0V11.2L0.4 5.6Z"/></svg>
<span class="t" style="left:1446.57px;top:447.00px;font-size:13.55px;line-height:13.55px;color:#444;">1</span>
<div class="r" style="left:1441.8000000000002px;top:466.4px;width:44.4px;height:1px;background:#e2e2e2;"></div>
<span class="t" style="left:1490.30px;top:447.00px;font-size:13.55px;line-height:13.55px;color:#444;letter-spacing:-0.402px;">/ 1</span>
<svg class="r" style="left:1513.8000000000002px;top:447.4px;" width="11" height="11.2" viewBox="0 0 11 11.2"><path fill="#444" d="M0.4 0V11.2L10.6 5.6Z"/></svg>
<svg class="r" style="left:1545.8000000000002px;top:446.6px;" width="14" height="12.8" viewBox="0 0 14 12.8"><path fill="#444" d="M12.1 0H14V12.8H12.1Z M0.4 0.4V12.4L10.8 6.4Z"/></svg>
<div class="r" style="left:839.2px;top:489px;width:741.5px;height:40.3px;background:#fcfcfc;"></div>
<div class="r" style="left:822px;top:553px;width:775px;height:300px;background:#fff;box-shadow:0 0 5px rgba(0,0,0,.07);"></div>
<span class="t" style="left:839.51px;top:568.00px;font-size:16.1px;line-height:16.1px;color:#616c76;letter-spacing:0.331px;transform:scaleX(1.09);transform-origin:0 0;-webkit-text-stroke:0.2px #616c76;">Claims</span>
<div class="r" style="left:839.2px;top:594px;width:741.5px;height:32.3px;background:#f1f5f6;"></div>
<div class="r" style="left:839.2px;top:626px;width:741.5px;height:1px;background:#d9dddf;"></div>
<div class="r" style="left:839.2px;top:627px;width:741.5px;height:144.60000000000002px;background:#fcfcfc;"></div>
<div class="r" style="left:839.2px;top:627px;width:726.3999999999999px;height:33.4px;background:#fff;"></div>
<div class="r" style="left:839.2px;top:659.9px;width:727.3999999999999px;height:1px;background:#dcdcdc;"></div>
<div class="r" style="left:927.0px;top:600px;width:1px;height:19px;background:#d5dadd;"></div>
<div class="r" style="left:927.0px;top:627px;width:1px;height:33.4px;background:#dcdcdc;"></div>
<div class="r" style="left:1015.9px;top:600px;width:1px;height:19px;background:#d5dadd;"></div>
<div class="r" style="left:1015.9px;top:627px;width:1px;height:33.4px;background:#dcdcdc;"></div>
<div class="r" style="left:1104.9px;top:600px;width:1px;height:19px;background:#d5dadd;"></div>
<div class="r" style="left:1104.9px;top:627px;width:1px;height:33.4px;background:#dcdcdc;"></div>
<div class="r" style="left:1402.1000000000001px;top:600px;width:1px;height:19px;background:#d5dadd;"></div>
<div class="r" style="left:1402.1000000000001px;top:627px;width:1px;height:33.4px;background:#dcdcdc;"></div>
<div class="r" style="left:1565.0px;top:600px;width:1px;height:19px;background:#d5dadd;"></div>
<div class="r" style="left:1565.0px;top:627px;width:1px;height:33.4px;background:#dcdcdc;"></div>
<span class="t" style="left:845.11px;top:603.00px;font-size:13.55px;line-height:13.55px;color:#25506d;letter-spacing:0.137px;">Claim #</span>
<span class="t" style="left:933.59px;top:603.00px;font-size:13.55px;line-height:13.55px;color:#25506d;letter-spacing:0.111px;">Encounter #</span>
<span class="t" style="left:1022.98px;top:603.00px;font-size:13.55px;line-height:13.55px;color:#25506d;letter-spacing:0.132px;">Service Date</span>
<span class="t" style="left:1111.79px;top:603.00px;font-size:13.55px;line-height:13.55px;color:#25506d;letter-spacing:0.156px;">Payer Name</span>
<span class="t" style="left:1408.71px;top:603.00px;font-size:13.55px;line-height:13.55px;color:#25506d;letter-spacing:0.243px;">Claim Status</span>
<span class="t" style="left:844.97px;top:638.00px;font-size:13.55px;line-height:13.55px;color:#3391d4;letter-spacing:0.584px;">15784509</span>
<span class="t" style="left:933.87px;top:638.00px;font-size:13.55px;line-height:13.55px;color:#3391d4;letter-spacing:0.577px;">10921396</span>
<span class="t" style="left:1023.07px;top:637.00px;font-size:13.55px;line-height:13.55px;color:#3a3a3a;letter-spacing:0.401px;">01/02/2024</span>
<span class="t" style="left:1111.91px;top:637.00px;font-size:13.55px;line-height:13.55px;color:#3a3a3a;letter-spacing:-0.028px;">CareFirst</span>
<span class="t" style="left:1170.59px;top:637.00px;font-size:13.55px;line-height:13.55px;color:#3a3a3a;letter-spacing:0.265px;">Blue</span>
<span class="t" style="left:1201.41px;top:637.00px;font-size:13.55px;line-height:13.55px;color:#3a3a3a;letter-spacing:-0.051px;">Cross</span>
<span class="t" style="left:1239.79px;top:637.00px;font-size:13.55px;line-height:13.55px;color:#3a3a3a;letter-spacing:0.298px;">Blue</span>
<span class="t" style="left:1270.68px;top:637.00px;font-size:13.55px;line-height:13.55px;color:#3a3a3a;letter-spacing:0.025px;">Shield</span>
<span class="t" style="left:1311.99px;top:637.00px;font-size:13.55px;line-height:13.55px;color:#3a3a3a;letter-spacing:0.508px;">Maryland</span>
<span class="t" style="left:1408.29px;top:637.00px;font-size:13.55px;line-height:13.55px;color:#3a3a3a;letter-spacing:0.886px;">New</span>
<span class="t" style="left:847.60px;top:790.00px;font-size:13.55px;line-height:13.55px;color:#444;letter-spacing:-0.089px;">Total: 1</span>
<span class="t" style="left:1256.79px;top:791.00px;font-size:13.55px;line-height:13.55px;color:#444;letter-spacing:-0.165px;">Page Size:</span>
<div class="r" style="left:1320.6px;top:812.5px;width:44.5px;height:1px;background:#e2e2e2;"></div>
<svg class="r" style="left:1349.6px;top:794.6px;" width="12" height="8" viewBox="0 0 12 8"><path fill="none" stroke="#444" stroke-width="1.4" d="M1.2 1.5 L6 6.3 L10.8 1.5"/></svg>
<svg class="r" style="left:1381.4px;top:790.6px;" width="14" height="12.8" viewBox="0 0 14 12.8"><path fill="#444" d="M0 0H1.9V12.8H0Z M13.6 0.4V12.4L3.2 6.4Z"/></svg>
<svg class="r" style="left:1415.0px;top:791.4px;" width="11" height="11.2" viewBox="0 0 11 11.2"><path fill="#444" d="M10.6 0V11.2L0.4 5.6Z"/></svg>
<span class="t" style="left:1446.57px;top:791.00px;font-size:13.55px;line-height:13.55px;color:#444;">1</span>
<div class="r" style="left:1441.8000000000002px;top:810.4000000000001px;width:44.4px;height:1px;background:#e2e2e2;"></div>
<span class="t" style="left:1490.30px;top:791.00px;font-size:13.55px;line-height:13.55px;color:#444;letter-spacing:-0.402px;">/ 1</span>
<svg class="r" style="left:1513.8000000000002px;top:791.4px;" width="11" height="11.2" viewBox="0 0 11 11.2"><path fill="#444" d="M0.4 0V11.2L10.6 5.6Z"/></svg>
<svg class="r" style="left:1545.8000000000002px;top:790.6px;" width="14" height="12.8" viewBox="0 0 14 12.8"><path fill="#444" d="M12.1 0H14V12.8H12.1Z M0.4 0.4V12.4L10.8 6.4Z"/></svg>
<div class="r" style="left:0px;top:329.3px;width:39.3px;height:191px;background:#ececec;border:2.6px solid #e8131d;"></div>
<div class="r" style="left:2.3px;top:331.8px;width:30.6px;height:186.3px;background:#00609c;"></div>
<span class="t" style="left:6.01px;top:342.00px;font-size:14px;line-height:14px;color:#fff;transform:scaleX(0.9530013959981387);transform-origin:0 0;">PP</span>
<div class="r" style="left:2.3px;top:366.8px;width:30.6px;height:1px;background:#5f9cc3;"></div>
<span class="t" style="left:5.83px;top:380.00px;font-size:14px;line-height:14px;color:#fff;transform:scaleX(0.9823826966684109);transform-origin:0 0;">IP</span>
<div class="r" style="left:2.3px;top:404.5px;width:30.6px;height:1px;background:#5f9cc3;"></div>
<span class="t" style="left:6.01px;top:418.00px;font-size:14px;line-height:14px;color:#fff;transform:scaleX(0.9455730581205865);transform-origin:0 0;">PF</span>
<div class="r" style="left:2.3px;top:442.20000000000005px;width:30.6px;height:1px;background:#5f9cc3;"></div>
<span class="t" style="left:6.04px;top:455.00px;font-size:14px;line-height:14px;color:#fff;transform:scaleX(0.9239097744360901);transform-origin:0 0;">PS</span>
<div class="r" style="left:2.3px;top:479.90000000000003px;width:30.6px;height:1px;background:#5f9cc3;"></div>
<span class="t" style="left:6.51px;top:493.00px;font-size:14px;line-height:14px;color:#fff;transform:scaleX(0.9301403798513624);transform-origin:0 0;">SQ</span>
<div class="r" style="left:1598.2px;top:130px;width:19.8px;height:697px;background:#f1f1f1;"></div>
<div class="r" style="left:1599px;top:149px;width:16.2px;height:584.5px;background:#c1c1c1;"></div>
<svg class="r" style="left:1602.8px;top:137.7px;" width="8.5" height="4.3" viewBox="0 0 8.4 4.4"><path fill="#a3a3a3" d="M0 4.4 L4.2 0 L8.4 4.4Z"/></svg>
<div class="r" style="left:1618px;top:130px;width:49px;height:697px;background:#fff;"></div>
<svg class="r" style="left:1636px;top:148px;" width="14" height="16" viewBox="0 0 14 16"><path fill="none" stroke="#0a3b33" stroke-width="1.9" d="M10.3 2.6 L4.9 8 L10.3 13.4"/></svg>
<svg class="r" style="left:1625.6px;top:193px;overflow:visible;" width="29.4" height="27.3" viewBox="0 0 28 27"><g fill="none" stroke="#ff7f41" stroke-width="1.4" stroke-linejoin="round">
<path d="M4.5 1.5 H18 Q20.6 1.5 20.6 4.1 V14.2 Q20.6 16.8 18 16.8 H9.2 L5.2 20.4 L4.8 16.8 H4.5 Q1.9 16.8 1.9 14.2 V4.1 Q1.9 1.5 4.5 1.5Z"/>
<path d="M20.6 4 H22.4 Q25 4 25 6.6 V17.6 Q25 20.2 22.6 20.2 L22.2 24.2 L16 20.2 H8.6"/></g></svg>
<div class="r" style="left:1620px;top:230px;width:37.5px;height:1px;background:#dddddd;"></div>
<div class="r" style="left:1659px;top:177px;width:8px;height:586px;background:#fbfbfb;"></div>
<div class="r" style="left:1659px;top:190px;width:8px;height:379px;background:#a8a8a8;"></div>
<svg class="r" style="left:1660.9px;top:182.2px;" width="6.8" height="2.9" viewBox="0 0 6.8 2.9"><path fill="#9a9a9a" d="M0 2.9 L3.4 0 L6.8 2.9Z"/></svg>
<svg class="r" style="left:1660.9px;top:755.5px;" width="6.8" height="2.9" viewBox="0 0 6.8 2.9"><path fill="#9a9a9a" d="M0 0 L3.4 2.9 L6.8 0Z"/></svg>
<div class="r" style="left:1617.2px;top:177px;width:40.9px;height:586.6px;overflow:hidden;">
<div class="r" style="left:-0.9px;top:59.9px;width:42.8px;height:42.8px;background:#00609c;border-radius:50%;"></div>
<span class="t" style="left:12.38px;top:74.00px;font-size:17.4px;line-height:17.4px;color:#fff;transform:scaleX(0.8529068798933918);transform-origin:0 0;">PJ</span>
<div class="r" style="left:-0.9px;top:114.08px;width:42.8px;height:42.8px;background:#00609c;border-radius:50%;"></div>
<span class="t" style="left:10.45px;top:128.00px;font-size:17.4px;line-height:17.4px;color:#fff;transform:scaleX(0.9211394302848491);transform-origin:0 0;">JM</span>
<div class="r" style="left:-0.9px;top:168.26px;width:42.8px;height:42.8px;background:#00609c;border-radius:50%;"></div>
<span class="t" style="left:9.29px;top:182.00px;font-size:17.4px;line-height:17.4px;color:#fff;transform:scaleX(0.9887657140734879);transform-origin:0 0;">BE</span>
<div class="r" style="left:-0.9px;top:222.44px;width:42.8px;height:42.8px;background:#00609c;border-radius:50%;"></div>
<span class="t" style="left:12.38px;top:236.00px;font-size:17.4px;line-height:17.4px;color:#fff;transform:scaleX(0.8529068798933918);transform-origin:0 0;">PJ</span>
<div class="r" style="left:-0.9px;top:276.62px;width:42.8px;height:42.8px;background:#00609c;border-radius:50%;"></div>
<span class="t" style="left:12.38px;top:291.00px;font-size:17.4px;line-height:17.4px;color:#fff;transform:scaleX(0.8529068798933918);transform-origin:0 0;">PJ</span>
<div class="r" style="left:0.1px;top:332.35px;width:18.4px;height:19.6px;background:#00609c;border-radius:50%;"></div>
<span class="t" style="left:3.23px;top:338.00px;font-size:8.6px;line-height:8.6px;color:#fff;transform:scaleX(1.0319957993868618);transform-origin:0 0;">AR</span>
<div class="r" style="left:22.7px;top:332.35px;width:18.4px;height:19.6px;background:#00609c;border-radius:50%;"></div>
<span class="t" style="left:26.59px;top:338.00px;font-size:8.6px;line-height:8.6px;color:#fff;transform:scaleX(1.0098809031821858);transform-origin:0 0;">BE</span>
<div class="r" style="left:0.1px;top:353.65px;width:18.4px;height:19.6px;background:#00609c;border-radius:50%;"></div>
<span class="t" style="left:4.38px;top:360.00px;font-size:8.6px;line-height:8.6px;color:#fff;transform:scaleX(0.884787204706332);transform-origin:0 0;">JM</span>
<div class="r" style="left:22.7px;top:353.65px;width:18.4px;height:19.6px;background:#00609c;border-radius:50%;"></div>
<span class="t" style="left:28.62px;top:360.00px;font-size:8.6px;line-height:8.6px;color:#fff;transform:scaleX(0.8168071003258063);transform-origin:0 0;">PJ</span>
<div class="r" style="left:-0.9px;top:384.98px;width:42.8px;height:42.8px;background:#00609c;border-radius:50%;"></div>
<span class="t" style="left:12.38px;top:399.00px;font-size:17.4px;line-height:17.4px;color:#fff;transform:scaleX(0.8529068798933918);transform-origin:0 0;">PJ</span>
<div class="r" style="left:0.1px;top:440.11px;width:18.4px;height:19.6px;background:#00609c;border-radius:50%;"></div>
<span class="t" style="left:3.23px;top:446.00px;font-size:8.6px;line-height:8.6px;color:#fff;transform:scaleX(1.0319957993868618);transform-origin:0 0;">AR</span>
<div class="r" style="left:22.7px;top:440.11px;width:18.4px;height:19.6px;background:#00609c;border-radius:50%;"></div>
<span class="t" style="left:26.59px;top:446.00px;font-size:8.6px;line-height:8.6px;color:#fff;transform:scaleX(1.0098809031821858);transform-origin:0 0;">BE</span>
<div class="r" style="left:0.1px;top:461.41px;width:18.4px;height:19.6px;background:#00609c;border-radius:50%;"></div>
<span class="t" style="left:4.38px;top:468.00px;font-size:8.6px;line-height:8.6px;color:#fff;transform:scaleX(0.884787204706332);transform-origin:0 0;">JM</span>
<div class="r" style="left:22.7px;top:461.41px;width:18.4px;height:19.6px;background:#00609c;border-radius:50%;"></div>
<span class="t" style="left:28.62px;top:468.00px;font-size:8.6px;line-height:8.6px;color:#fff;transform:scaleX(0.8168071003258063);transform-origin:0 0;">PJ</span>
<div class="r" style="left:-0.9px;top:493.34px;width:42.8px;height:42.8px;background:#00609c;border-radius:50%;"></div>
<span class="t" style="left:12.38px;top:507.00px;font-size:17.4px;line-height:17.4px;color:#fff;transform:scaleX(0.8529068798933918);transform-origin:0 0;">PJ</span>
<div class="r" style="left:-0.9px;top:547.52px;width:42.8px;height:42.8px;background:#00609c;border-radius:50%;"></div>
<span class="t" style="left:9.17px;top:562.00px;font-size:17.4px;line-height:17.4px;color:#fff;transform:scaleX(0.9944161204175733);transform-origin:0 0;">AR</span>
</div>
<div class="r" style="left:1622px;top:773px;width:45px;height:1px;background:#dddddd;"></div>
<svg class="r" style="left:1632.7px;top:788.4px;" width="24" height="24" viewBox="0 0 24 24"><g fill="none" stroke="#ff7f41" stroke-width="1.5" stroke-linecap="round" stroke-linejoin="round">
<path d="M21.3 9.2 A10.3 10.3 0 1 1 17.5 3.2"/><path d="M7.4 11.6 L11.6 15.4 L20.6 4.2"/></g></svg>
</body></html>
